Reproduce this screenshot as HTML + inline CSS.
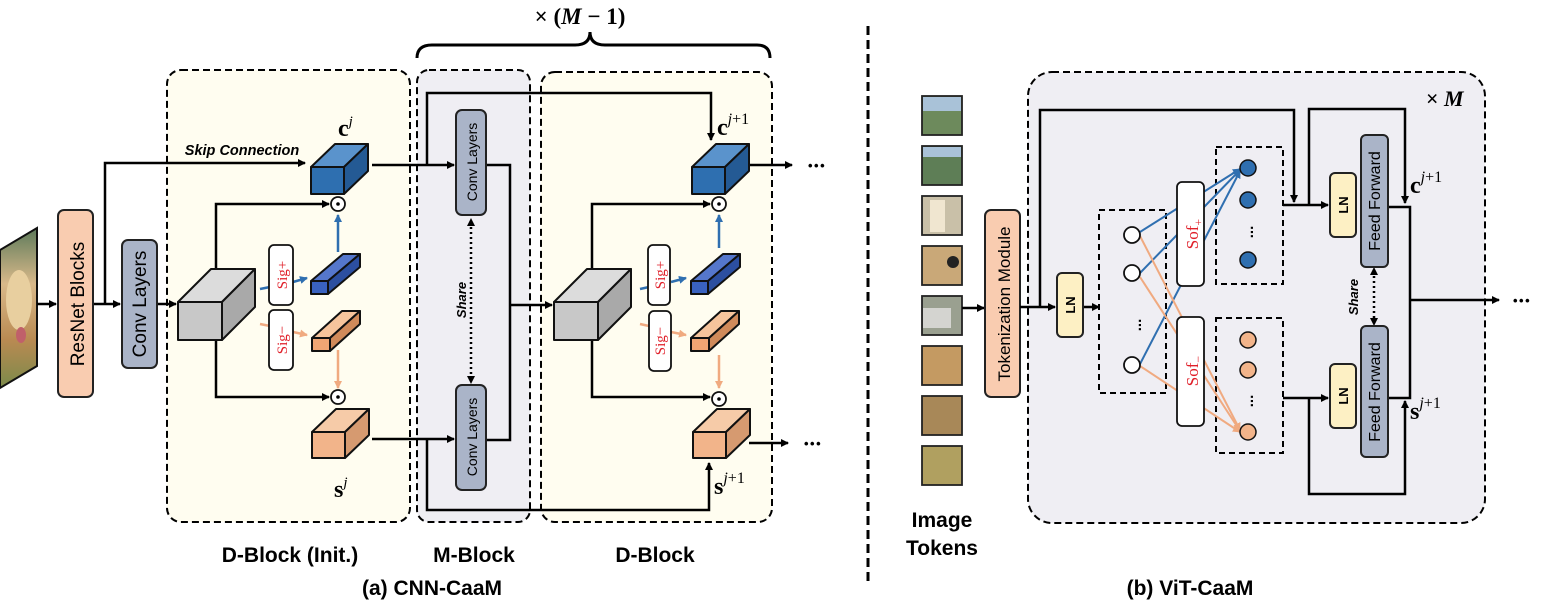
<!DOCTYPE html>
<html><head><meta charset="utf-8"><style>
html,body{margin:0;padding:0;background:#fff;}
svg{display:block;}
.sans{font-family:"Liberation Sans","DejaVu Sans",sans-serif;}
.serif{font-family:"Liberation Serif","DejaVu Serif",serif;}
</style></head><body>
<svg width="1548" height="606" viewBox="0 0 1548 606" xmlns="http://www.w3.org/2000/svg">
<defs>
<marker id="a" markerWidth="8" markerHeight="8" refX="7" refY="4" orient="auto" markerUnits="userSpaceOnUse"><path d="M0,0 L8,4 L0,8 z" fill="#000"/></marker>
<marker id="ab" markerWidth="8" markerHeight="8" refX="7" refY="4" orient="auto" markerUnits="userSpaceOnUse"><path d="M0,0 L8,4 L0,8 z" fill="#2f6fb0"/></marker>
<marker id="ao" markerWidth="8" markerHeight="8" refX="7" refY="4" orient="auto" markerUnits="userSpaceOnUse"><path d="M0,0 L8,4 L0,8 z" fill="#f0aa80"/></marker>
<marker id="as" markerWidth="8" markerHeight="8" refX="4" refY="4" orient="auto-start-reverse" markerUnits="userSpaceOnUse"><path d="M0,0 L8,4 L0,8 z" fill="#000"/></marker>
<linearGradient id="dog" x1="0" y1="0" x2="0" y2="1"><stop offset="0" stop-color="#5d7a5a"/><stop offset="0.35" stop-color="#d9b98a"/><stop offset="0.7" stop-color="#b98a52"/><stop offset="1" stop-color="#7b8a4a"/></linearGradient>
</defs>

<rect x="167" y="70" width="243" height="452" rx="14" fill="#fffdf0" stroke="#000" stroke-width="2" stroke-dasharray="7,4"/>
<rect x="417" y="70" width="113" height="452" rx="12" fill="#efeef3" stroke="#000" stroke-width="2" stroke-dasharray="7,4"/>
<rect x="541" y="72" width="231" height="450" rx="14" fill="#fffdf0" stroke="#000" stroke-width="2" stroke-dasharray="7,4"/>
<rect x="1028" y="72" width="457" height="451" rx="24" fill="#efeef3" stroke="#000" stroke-width="2" stroke-dasharray="7,4"/>

<path d="M417,58 Q417,45 432,45 L575,45 Q590,45 590,32 Q590,45 605,45 L757,45 Q770,45 770,58" fill="none" stroke="#000" stroke-width="3"/>
<text x="580" y="24" text-anchor="middle" class="serif" font-size="23" font-weight="bold">× (<tspan font-style="italic">M</tspan> − 1)</text>

<polygon points="0,250 37,228 37,366 0,388" fill="url(#dog)" stroke="#111" stroke-width="2"/>
<ellipse cx="19" cy="300" rx="13" ry="30" fill="#e8cf9f"/>
<ellipse cx="21" cy="335" rx="5" ry="8" fill="#c0606a"/>

<g stroke="#000" stroke-width="2.5" fill="none">
<line x1="37" y1="304" x2="56" y2="304" marker-end="url(#a)"/>
<polyline points="93,304 120,304" marker-end="url(#a)"/>
<polyline points="105,304 105,163 305,163" marker-end="url(#a)"/>
<line x1="157" y1="304" x2="176" y2="304" marker-end="url(#a)"/>
<polyline points="216,302 216,204 329,204" marker-end="url(#a)"/>
<polyline points="216,340 216,397 329,397" marker-end="url(#a)"/>
<line x1="372" y1="165" x2="454" y2="165" marker-end="url(#a)"/>
<line x1="372" y1="439" x2="454" y2="439" marker-end="url(#a)"/>
<polyline points="427,165 427,93 711,93 711,140" marker-end="url(#a)"/>
<polyline points="427,439 427,510 709,510 709,463" marker-end="url(#a)"/>
<polyline points="487,165 510,165 510,440 487,440"/>
<line x1="510" y1="305" x2="552" y2="305" marker-end="url(#a)"/>
<polyline points="592,302 592,204 710,204" marker-end="url(#a)"/>
<polyline points="592,340 592,397 710,397" marker-end="url(#a)"/>
<line x1="749" y1="165" x2="792" y2="165" marker-end="url(#a)"/>
<line x1="749" y1="443" x2="788" y2="443" marker-end="url(#a)"/>
</g>
<line x1="471" y1="222" x2="471" y2="380" stroke="#000" stroke-width="2.5" stroke-dasharray="2,3" marker-start="url(#as)" marker-end="url(#as)"/>
<text transform="translate(466,300) rotate(-90)" text-anchor="middle" class="sans" font-size="13" font-weight="bold" font-style="italic">Share</text>

<rect x="58" y="210" width="35" height="187" rx="6" fill="#f9ccb0" stroke="#222" stroke-width="2"/>
<text transform="translate(84,304) rotate(-90)" text-anchor="middle" class="sans" font-size="19">ResNet Blocks</text>
<rect x="122" y="240" width="35" height="128" rx="6" fill="#aab4c8" stroke="#222" stroke-width="2"/>
<text transform="translate(146,304) rotate(-90)" text-anchor="middle" class="sans" font-size="19">Conv Layers</text>
<rect x="456" y="110" width="30" height="105" rx="6" fill="#aab4c8" stroke="#222" stroke-width="2"/>
<text transform="translate(477,162) rotate(-90)" text-anchor="middle" class="sans" font-size="14">Conv Layers</text>
<rect x="456" y="385" width="30" height="105" rx="6" fill="#aab4c8" stroke="#222" stroke-width="2"/>
<text transform="translate(477,437) rotate(-90)" text-anchor="middle" class="sans" font-size="14">Conv Layers</text>

<text x="242" y="155" text-anchor="middle" class="sans" font-size="14.5" font-weight="bold" font-style="italic">Skip Connection</text>

<g stroke="#111" stroke-width="2" stroke-linejoin="round">
<polygon points="178,302 211,269 255,269 222,302" fill="#dcdcdc"/>
<polygon points="222,302 255,269 255,307 222,340" fill="#a9a9a9"/>
<rect x="178" y="302" width="44" height="38" fill="#c8c8c8"/>
<polygon points="311,167 335,144 368,144 344,167" fill="#5a93cc"/>
<polygon points="344,167 368,144 368,171 344,194" fill="#245a94"/>
<rect x="311" y="167" width="33" height="27" fill="#2e6fb0"/>
<polygon points="312,432 336,409 369,409 345,432" fill="#f6cba8"/>
<polygon points="345,432 369,409 369,435 345,458" fill="#d69a70"/>
<rect x="312" y="432" width="33" height="26" fill="#f2b48a"/>
<polygon points="311,281 343,254 360,254 328,281" fill="#5577cc"/>
<polygon points="328,281 360,254 360,267 328,294" fill="#2c4fa0"/>
<rect x="311" y="281" width="17" height="13" fill="#3a62bf"/>
<polygon points="312,338 342,311 360,311 330,338" fill="#f6c49c"/>
<polygon points="330,338 360,311 360,324 330,351" fill="#d08a5a"/>
<rect x="312" y="338" width="18" height="13" fill="#efa574"/>
</g>
<g stroke="#111" stroke-width="2" stroke-linejoin="round">
<polygon points="554,302 587,269 631,269 598,302" fill="#dcdcdc"/>
<polygon points="598,302 631,269 631,307 598,340" fill="#a9a9a9"/>
<rect x="554" y="302" width="44" height="38" fill="#c8c8c8"/>
<polygon points="692,167 716,144 749,144 725,167" fill="#5a93cc"/>
<polygon points="725,167 749,144 749,171 725,194" fill="#245a94"/>
<rect x="692" y="167" width="33" height="27" fill="#2e6fb0"/>
<polygon points="693,432 717,409 750,409 726,432" fill="#f6cba8"/>
<polygon points="726,432 750,409 750,435 726,458" fill="#d69a70"/>
<rect x="693" y="432" width="33" height="26" fill="#f2b48a"/>
<polygon points="691,281 723,254 740,254 708,281" fill="#5577cc"/>
<polygon points="708,281 740,254 740,267 708,294" fill="#2c4fa0"/>
<rect x="691" y="281" width="17" height="13" fill="#3a62bf"/>
<polygon points="691,338 721,311 739,311 709,338" fill="#f6c49c"/>
<polygon points="709,338 739,311 739,324 709,351" fill="#d08a5a"/>
<rect x="691" y="338" width="18" height="13" fill="#efa574"/>
</g>

<g stroke-width="2.5">
<line x1="260" y1="289" x2="270" y2="287" stroke="#2f6fb0"/>
<line x1="293" y1="282" x2="307" y2="278" stroke="#2f6fb0" marker-end="url(#ab)"/>
<line x1="338" y1="252" x2="338" y2="215" stroke="#2f6fb0" marker-end="url(#ab)"/>
<line x1="260" y1="324" x2="270" y2="326" stroke="#f0aa80"/>
<line x1="293" y1="332" x2="307" y2="335" stroke="#f0aa80" marker-end="url(#ao)"/>
<line x1="338" y1="350" x2="338" y2="388" stroke="#f0aa80" marker-end="url(#ao)"/>
<line x1="640" y1="289" x2="649" y2="287" stroke="#2f6fb0"/>
<line x1="671" y1="282" x2="686" y2="278" stroke="#2f6fb0" marker-end="url(#ab)"/>
<line x1="719" y1="248" x2="719" y2="215" stroke="#2f6fb0" marker-end="url(#ab)"/>
<line x1="640" y1="324" x2="649" y2="326" stroke="#f0aa80"/>
<line x1="671" y1="332" x2="686" y2="335" stroke="#f0aa80" marker-end="url(#ao)"/>
<line x1="719" y1="355" x2="719" y2="388" stroke="#f0aa80" marker-end="url(#ao)"/>
</g>
<g fill="#fff" stroke="#111" stroke-width="1.8">
<rect x="269" y="245" width="24" height="60" rx="5"/>
<rect x="269" y="310" width="24" height="60" rx="5"/>
<rect x="648" y="245" width="22" height="60" rx="5"/>
<rect x="649" y="311" width="22" height="60" rx="5"/>
</g>
<g class="serif" font-size="15" fill="#e0202a" text-anchor="middle">
<text transform="translate(287,275) rotate(-90)">Sig+</text>
<text transform="translate(287,340) rotate(-90)">Sig−</text>
<text transform="translate(665,275) rotate(-90)">Sig+</text>
<text transform="translate(665,341) rotate(-90)">Sig−</text>
</g>
<g fill="#fff" stroke="#111" stroke-width="1.8">
<circle cx="338" cy="204" r="7"/><circle cx="338" cy="397" r="7"/>
<circle cx="719" cy="204" r="7"/><circle cx="719" cy="399" r="7"/>
</g>
<g fill="#000"><circle cx="338" cy="204" r="1.8"/><circle cx="338" cy="397" r="1.8"/><circle cx="719" cy="204" r="1.8"/><circle cx="719" cy="399" r="1.8"/></g>

<g class="serif" font-size="24" font-weight="bold">
<text x="338" y="136">c<tspan font-size="15" dy="-10" font-style="italic" font-weight="normal">j</tspan></text>
<text x="334" y="497">s<tspan font-size="15" dy="-10" font-style="italic" font-weight="normal">j</tspan></text>
<text x="717" y="135">c<tspan font-size="16" dy="-11" font-weight="normal"><tspan font-style="italic">j</tspan>+1</tspan></text>
<text x="714" y="494">s<tspan font-size="16" dy="-11" font-weight="normal"><tspan font-style="italic">j</tspan>+1</tspan></text>
</g>
<g class="sans" font-size="13" font-weight="bold" letter-spacing="1.5">
<text x="808" y="170">•••</text>
<text x="804" y="448">•••</text>
</g>

<line x1="868" y1="26" x2="868" y2="582" stroke="#000" stroke-width="3" stroke-dasharray="9,5"/>

<g stroke="#222" stroke-width="1.8">
<rect x="922" y="96" width="40" height="39" fill="#6d8a5c"/>
<rect x="922" y="146" width="40" height="39" fill="#5e7e56"/>
<rect x="922" y="196" width="40" height="39" fill="#c9c0a8"/>
<rect x="922" y="246" width="40" height="39" fill="#c9a878"/>
<rect x="922" y="296" width="40" height="39" fill="#9aa090"/>
<rect x="922" y="346" width="40" height="39" fill="#c49a62"/>
<rect x="922" y="396" width="40" height="39" fill="#a88858"/>
<rect x="922" y="446" width="40" height="39" fill="#b0a060"/>
</g>
<g stroke="none">
<rect x="923" y="97" width="38" height="14" fill="#a9c2d8"/>
<rect x="923" y="147" width="38" height="10" fill="#a9c2d8"/>
<rect x="930" y="200" width="15" height="32" fill="#f0e6d0"/>
<circle cx="953" cy="262" r="6" fill="#222"/>
<rect x="923" y="308" width="28" height="20" fill="#d4d4d0"/>
</g>
<text x="942" y="527" text-anchor="middle" class="sans" font-size="21" font-weight="bold">Image</text>
<text x="942" y="555" text-anchor="middle" class="sans" font-size="21" font-weight="bold">Tokens</text>
<line x1="962" y1="308" x2="984" y2="308" stroke="#000" stroke-width="2.5" marker-end="url(#a)"/>
<rect x="985" y="210" width="35" height="187" rx="6" fill="#f9ccb0" stroke="#222" stroke-width="2"/>
<text transform="translate(1010,304) rotate(-90)" text-anchor="middle" class="sans" font-size="17">Tokenization Module</text>

<text x="1426" y="106" class="serif" font-size="22" font-weight="bold">× <tspan font-style="italic">M</tspan></text>
<g stroke="#000" stroke-width="2.5" fill="none">
<line x1="1020" y1="307" x2="1055" y2="307" marker-end="url(#a)"/>
<polyline points="1040,307 1040,110 1294,110 1294,202" marker-end="url(#a)"/>
<line x1="1083" y1="307" x2="1099" y2="307" marker-end="url(#a)"/>
<line x1="1283" y1="205" x2="1328" y2="205" marker-end="url(#a)"/>
<polyline points="1309,205 1309,109 1405,109 1405,203" marker-end="url(#a)"/>
<line x1="1283" y1="398" x2="1328" y2="398" marker-end="url(#a)"/>
<polyline points="1309,398 1309,494 1405,494 1405,401" marker-end="url(#a)"/>
<polyline points="1388,207 1410,207 1410,398 1388,398"/>
<line x1="1410" y1="300" x2="1499" y2="300" marker-end="url(#a)"/>
</g>
<text x="1513" y="305" class="sans" font-size="13" font-weight="bold" letter-spacing="1.5">•••</text>
<line x1="1374" y1="271" x2="1374" y2="322" stroke="#000" stroke-width="2.5" stroke-dasharray="2,3" marker-start="url(#as)" marker-end="url(#as)"/>
<text transform="translate(1358,297) rotate(-90)" text-anchor="middle" class="sans" font-size="13" font-weight="bold" font-style="italic">Share</text>

<rect x="1099" y="210" width="67" height="183" fill="none" stroke="#000" stroke-width="2" stroke-dasharray="6,4"/>
<rect x="1216" y="147" width="67" height="137" fill="none" stroke="#000" stroke-width="2" stroke-dasharray="6,4"/>
<rect x="1216" y="318" width="67" height="135" fill="none" stroke="#000" stroke-width="2" stroke-dasharray="6,4"/>

<g stroke-width="2">
<line x1="1140" y1="232" x2="1240" y2="169" stroke="#2f6fb0" marker-end="url(#ab)"/>
<line x1="1140" y1="273" x2="1240" y2="170" stroke="#2f6fb0" marker-end="url(#ab)"/>
<line x1="1140" y1="364" x2="1240" y2="171" stroke="#2f6fb0" marker-end="url(#ab)"/>
<line x1="1140" y1="236" x2="1240" y2="430" stroke="#f0aa80" marker-end="url(#ao)"/>
<line x1="1140" y1="277" x2="1240" y2="431" stroke="#f0aa80" marker-end="url(#ao)"/>
<line x1="1140" y1="366" x2="1240" y2="432" stroke="#f0aa80" marker-end="url(#ao)"/>
</g>
<g fill="#fff" stroke="#111" stroke-width="1.8">
<circle cx="1132" cy="235" r="8"/><circle cx="1132" cy="273" r="8"/><circle cx="1132" cy="365" r="8"/>
</g>
<text transform="translate(1141,325) rotate(-90)" text-anchor="middle" class="sans" font-size="15" font-weight="bold">...</text>
<g fill="#fff" stroke="#111" stroke-width="1.8">
<rect x="1177" y="182" width="27" height="104" rx="5"/>
<rect x="1177" y="317" width="27" height="109" rx="5"/>
</g>
<text transform="translate(1198,234) rotate(-90)" text-anchor="middle" class="serif" font-size="17" fill="#e0202a">Sof<tspan font-size="12" dy="4">+</tspan></text>
<text transform="translate(1198,371) rotate(-90)" text-anchor="middle" class="serif" font-size="17" fill="#e0202a">Sof<tspan font-size="12" dy="4">−</tspan></text>
<g fill="#2f6fb0" stroke="#111" stroke-width="1.5">
<circle cx="1248" cy="168" r="8"/><circle cx="1248" cy="200" r="8"/><circle cx="1248" cy="260" r="8"/>
</g>
<g fill="#f2b48a" stroke="#111" stroke-width="1.5">
<circle cx="1248" cy="340" r="8"/><circle cx="1248" cy="370" r="8"/><circle cx="1248" cy="432" r="8"/>
</g>
<text transform="translate(1253,232) rotate(-90)" text-anchor="middle" class="sans" font-size="15" font-weight="bold">...</text>
<text transform="translate(1253,401) rotate(-90)" text-anchor="middle" class="sans" font-size="15" font-weight="bold">...</text>

<g stroke="#222" stroke-width="2">
<rect x="1057" y="273" width="26" height="64" rx="5" fill="#fdf0c4"/>
<rect x="1330" y="173" width="26" height="64" rx="5" fill="#fdf0c4"/>
<rect x="1330" y="364" width="26" height="64" rx="5" fill="#fdf0c4"/>
<rect x="1361" y="135" width="27" height="132" rx="5" fill="#aab4c8"/>
<rect x="1361" y="326" width="27" height="131" rx="5" fill="#aab4c8"/>
</g>
<g class="sans" font-size="13" font-weight="bold" text-anchor="middle">
<text transform="translate(1075,305) rotate(-90)">LN</text>
<text transform="translate(1348,205) rotate(-90)">LN</text>
<text transform="translate(1348,396) rotate(-90)">LN</text>
</g>
<g class="sans" font-size="16" text-anchor="middle">
<text transform="translate(1380,201) rotate(-90)">Feed Forward</text>
<text transform="translate(1380,392) rotate(-90)">Feed Forward</text>
</g>
<g class="serif" font-size="24" font-weight="bold">
<text x="1410" y="193">c<tspan font-size="16" dy="-11" font-weight="normal"><tspan font-style="italic">j</tspan>+1</tspan></text>
<text x="1410" y="419">s<tspan font-size="16" dy="-11" font-weight="normal"><tspan font-style="italic">j</tspan>+1</tspan></text>
</g>

<g class="sans" font-size="21" font-weight="bold" text-anchor="middle">
<text x="290" y="562">D-Block (Init.)</text>
<text x="474" y="562">M-Block</text>
<text x="655" y="562">D-Block</text>
<text x="432" y="595">(a) CNN-CaaM</text>
<text x="1190" y="595">(b) ViT-CaaM</text>
</g>
</svg>
</body></html>
